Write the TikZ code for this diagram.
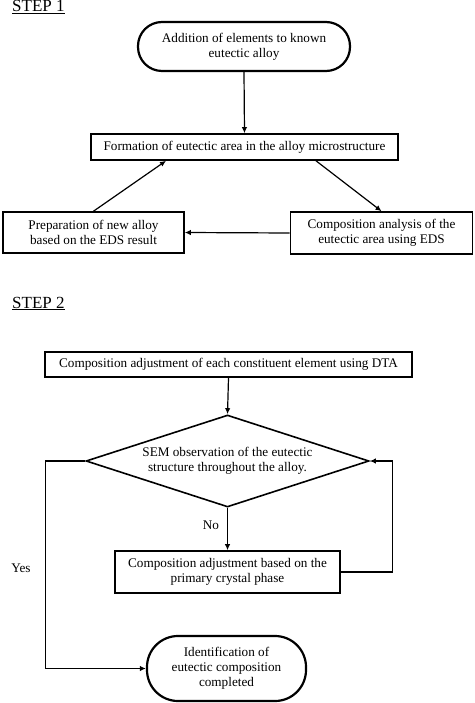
\documentclass[tikz,border=0pt]{standalone}
\usepackage{fontspec}
\setmainfont{Liberation Serif}
\usetikzlibrary{shapes.geometric,arrows.meta}
\begin{document}
\begin{tikzpicture}[x=1pt,y=-1pt,
  every node/.style={font=\fontsize{13.2}{15}\selectfont, align=center, inner sep=0pt},
  box/.style={draw, line width=1.6pt, rectangle},
  term/.style={draw, line width=2.2pt, rectangle},
  heading/.style={font=\fontsize{17}{20}\selectfont, anchor=base west},
  arr/.style={line width=1.2pt, -{Latex[length=6pt,width=5.5pt]}},
  lbl/.style={font=\fontsize{13.2}{15}\selectfont}]
\useasboundingbox (0,0) rectangle (474,703);
\node[heading] (s1) at (12,12) {\underline{STEP 1}};
\node[term, minimum width=212pt, minimum height=49pt, rounded corners=24pt] (start) at (244,46.5) {Addition of elements to known\\eutectic alloy};
\node[box, minimum width=307pt, minimum height=26pt] (form) at (244.5,147) {Formation of eutectic area in the alloy microstructure};
\node[box, minimum width=181pt, minimum height=41pt] (prep) at (93.5,232.5) {Preparation of new alloy\\based on the EDS result};
\node[box, minimum width=182pt, minimum height=42pt] (comp) at (381.5,233) {Composition analysis of the\\eutectic area using EDS};
\node[heading] (s2) at (12,308) {\underline{STEP 2}};
\node[box, minimum width=367pt, minimum height=25pt] (dta) at (228.5,364.5) {Composition adjustment of each constituent element using DTA};
\node[diamond, draw, line width=1.6pt, aspect=3.076, minimum width=283pt, minimum height=92pt] (dec) at (227.5,461) {SEM observation of the eutectic\\structure throughout the alloy.};
\node[box, minimum width=225pt, minimum height=42pt] (adj) at (227.5,572) {Composition adjustment based on the\\primary crystal phase};
\node[term, minimum width=159pt, minimum height=65pt, rounded corners=31pt] (end) at (226.5,668.5) {Identification of\\eutectic composition\\completed};
\draw[arr] (start.south) -- (form.north);
\draw[arr] ([xshift=71.5pt]form.south) -- (comp.north);
\draw[arr] (prep.north) -- ([xshift=-78.5pt]form.south);
\draw[arr] (comp.west) -- (prep.east);
\draw[arr] (dta.south) -- (dec.north);
\draw[arr] (dec.south) -- node[lbl, pos=0.42, left=8pt] (no) {No} (adj.north);
\draw[arr] (dec.west) -- ++(-40,0) coordinate (yc) |- (end.west);
\node[lbl] (yes) at (21,568) {Yes};
\draw[arr] (adj.east) -- ++(52,0) coordinate (nc) |- (dec.east);
\end{tikzpicture}
\end{document}
